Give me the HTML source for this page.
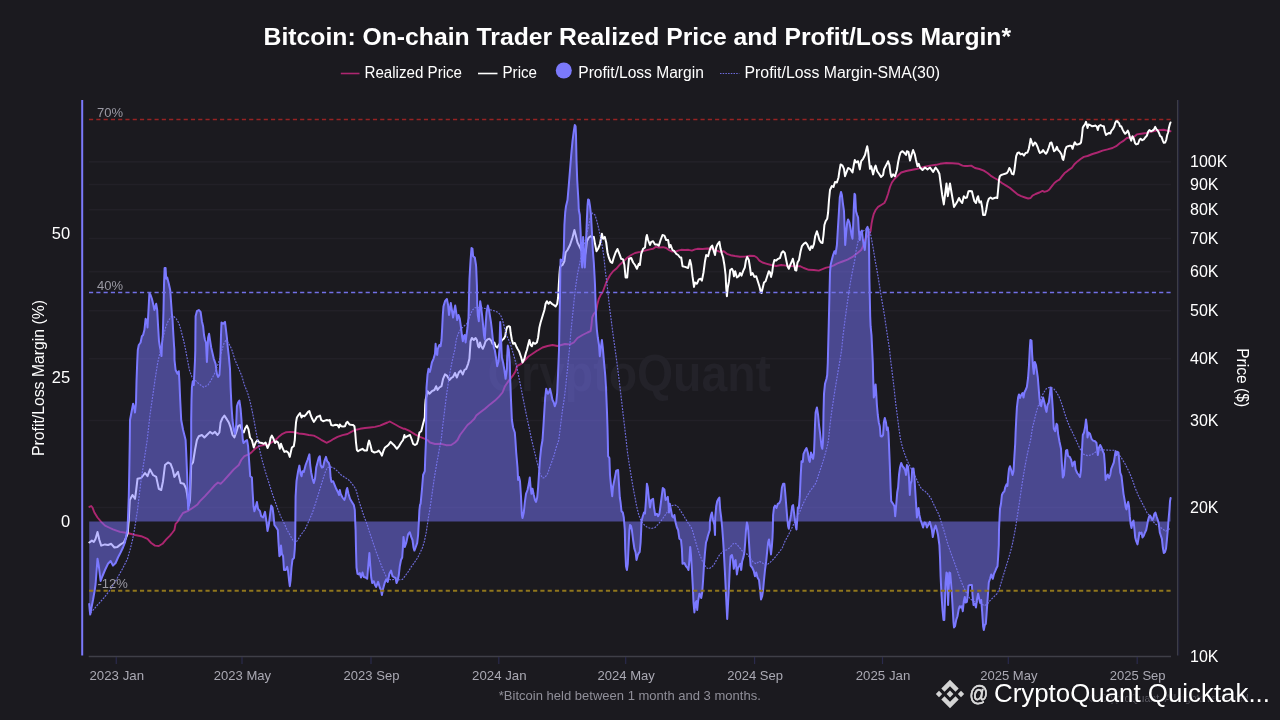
<!DOCTYPE html>
<html><head><meta charset="utf-8"><title>Bitcoin: On-chain Trader Realized Price and Profit/Loss Margin</title>
<style>html,body{margin:0;padding:0;background:#1b1a1f;width:1280px;height:720px;overflow:hidden;font-family:"Liberation Sans",sans-serif}</style>
</head><body>
<svg width="1280" height="720" viewBox="0 0 1280 720" style="display:block;will-change:transform">
<rect width="1280" height="720" fill="#1b1a1f"/>
<line x1="89" x2="1171" y1="161.9" y2="161.9" stroke="#222027" stroke-width="1.6"/>
<line x1="89" x2="1171" y1="184.5" y2="184.5" stroke="#222027" stroke-width="1.6"/>
<line x1="89" x2="1171" y1="209.8" y2="209.8" stroke="#222027" stroke-width="1.6"/>
<line x1="89" x2="1171" y1="238.5" y2="238.5" stroke="#222027" stroke-width="1.6"/>
<line x1="89" x2="1171" y1="271.6" y2="271.6" stroke="#222027" stroke-width="1.6"/>
<line x1="89" x2="1171" y1="310.8" y2="310.8" stroke="#222027" stroke-width="1.6"/>
<line x1="89" x2="1171" y1="358.7" y2="358.7" stroke="#222027" stroke-width="1.6"/>
<line x1="89" x2="1171" y1="420.5" y2="420.5" stroke="#222027" stroke-width="1.6"/>
<line x1="89" x2="1171" y1="507.5" y2="507.5" stroke="#222027" stroke-width="1.6"/>
<text x="487.5" y="390.8" font-family="Liberation Sans, sans-serif" font-size="52" font-weight="bold" fill="#232229" textLength="283.5" lengthAdjust="spacingAndGlyphs">CryptoQuant</text>
<path d="M89.4,506.9 L91.2,506.0 L92.5,507.5 L94.4,512.5 L97.5,517.5 L101.2,521.9 L105.0,525.6 L110.0,528.0 L113.0,529.4 L120.0,531.9 L127.5,533.0 L135.0,535.0 L141.2,536.2 L147.5,538.8 L151.2,543.0 L155.0,545.6 L158.8,546.0 L162.5,543.8 L166.2,539.4 L170.0,535.6 L172.5,532.5 L174.4,530.0 L175.6,523.8 L177.5,521.9 L180.0,517.5 L183.0,513.0 L187.5,511.2 L192.5,508.0 L197.5,504.4 L200.0,501.2 L205.0,496.2 L210.0,490.6 L215.0,485.0 L218.0,482.5 L220.6,483.8 L223.8,480.6 L228.8,475.0 L233.8,469.4 L238.8,465.0 L241.2,460.0 L244.4,456.2 L248.8,454.4 L251.9,451.9 L255.0,448.8 L258.8,446.2 L263.8,445.0 L268.1,444.4 L272.5,441.9 L276.2,439.4 L279.4,436.2 L282.5,433.8 L286.2,432.2 L290.0,431.9 L294.4,432.2 L298.8,433.5 L303.8,434.0 L308.8,435.0 L313.8,435.6 L317.5,437.5 L321.2,439.8 L325.0,441.9 L326.5,442.8 L330.0,441.2 L333.8,438.8 L337.5,436.9 L342.5,435.2 L347.5,434.0 L351.2,431.9 L355.0,430.0 L360.0,428.8 L365.0,428.0 L370.0,427.5 L375.0,426.9 L380.0,425.6 L383.8,424.0 L387.5,422.5 L389.8,421.5 L392.5,423.0 L396.2,425.0 L400.0,427.2 L403.8,428.8 L405.0,428.8 L410.0,431.2 L415.0,434.4 L420.0,436.9 L425.0,438.8 L427.5,440.0 L430.0,442.5 L435.0,444.0 L441.2,443.8 L446.2,445.2 L451.2,445.0 L455.0,442.5 L457.5,440.0 L460.0,435.0 L463.8,430.0 L467.5,425.0 L471.2,421.9 L474.4,418.8 L476.2,415.6 L480.0,412.5 L485.0,408.8 L490.0,404.4 L495.0,400.6 L498.8,396.9 L502.5,392.5 L505.0,386.2 L508.8,380.6 L512.5,376.2 L515.6,371.2 L516.9,366.2 L521.2,363.8 L525.0,360.0 L528.8,356.2 L532.5,353.8 L536.2,351.2 L538.4,350.0 L542.5,347.5 L547.5,346.0 L552.5,345.0 L557.5,346.0 L561.2,345.0 L565.0,344.0 L570.0,344.4 L573.8,342.5 L577.5,338.0 L582.5,335.0 L587.5,332.5 L590.6,331.2 L591.5,325.0 L592.2,317.5 L593.8,313.8 L596.2,311.2 L597.2,305.0 L598.8,298.8 L600.6,295.0 L602.5,292.5 L604.4,287.5 L606.2,282.5 L608.1,278.8 L610.0,275.3 L613.1,271.2 L616.2,268.8 L620.0,264.4 L623.8,261.2 L627.5,257.5 L631.2,255.0 L635.0,253.0 L640.0,251.9 L645.0,250.6 L650.0,249.4 L653.1,248.8 L655.6,246.9 L658.8,247.5 L663.1,247.2 L666.2,248.0 L668.8,250.0 L671.2,251.2 L675.0,251.9 L678.1,250.6 L681.2,249.8 L685.0,250.0 L688.5,249.8 L691.9,250.6 L695.0,249.4 L697.5,248.8 L702.5,249.0 L707.5,248.5 L712.5,248.8 L716.9,250.6 L720.0,251.9 L723.8,251.2 L726.9,253.8 L730.6,255.2 L735.0,256.0 L740.0,256.7 L745.0,256.6 L750.0,255.8 L754.4,256.0 L756.9,257.5 L759.4,260.6 L762.5,262.5 L766.9,263.8 L771.2,265.0 L776.2,266.0 L781.2,265.0 L786.2,265.6 L791.2,266.0 L796.2,266.2 L800.0,266.2 L803.8,268.0 L808.8,269.8 L813.8,270.0 L818.8,270.6 L822.5,269.2 L826.2,267.6 L830.0,266.9 L833.8,265.3 L837.5,263.3 L842.5,261.5 L847.5,259.6 L852.5,256.9 L857.5,253.0 L861.2,250.0 L863.1,246.2 L864.4,241.2 L866.2,237.5 L868.8,235.0 L870.6,231.2 L871.5,223.8 L872.5,218.8 L873.8,213.8 L875.6,210.0 L878.1,206.9 L881.2,205.0 L884.4,203.0 L886.2,199.4 L888.1,193.8 L890.0,187.0 L891.9,182.5 L894.4,179.0 L897.5,176.0 L901.2,172.5 L906.2,171.0 L911.2,170.0 L917.5,168.8 L923.8,166.9 L930.0,165.6 L936.2,164.8 L940.0,163.8 L946.2,163.0 L952.5,163.3 L958.8,163.8 L962.5,165.6 L965.0,166.0 L967.5,166.0 L971.2,165.6 L975.0,168.0 L979.4,169.0 L983.8,170.6 L987.5,173.0 L990.6,175.6 L994.4,178.0 L998.1,180.0 L1001.9,183.0 L1006.2,185.6 L1010.0,188.0 L1013.8,191.2 L1017.5,194.4 L1021.2,196.2 L1025.0,197.5 L1028.1,198.5 L1030.6,198.0 L1032.5,195.6 L1035.6,194.0 L1039.4,192.5 L1042.5,190.9 L1044.4,191.9 L1046.9,191.2 L1049.4,189.4 L1051.9,186.2 L1054.4,183.0 L1056.9,181.0 L1059.4,179.6 L1061.9,176.4 L1064.4,173.3 L1068.1,170.4 L1071.9,167.8 L1074.4,164.2 L1077.5,161.4 L1080.6,159.0 L1083.8,156.9 L1087.5,156.0 L1092.5,154.0 L1097.5,152.5 L1102.5,150.6 L1107.5,149.4 L1112.5,148.0 L1116.2,146.2 L1120.0,143.0 L1123.8,140.6 L1126.9,138.0 L1130.0,137.5 L1133.8,136.9 L1136.9,134.4 L1141.2,133.8 L1146.2,133.0 L1151.2,131.9 L1156.2,130.6 L1160.0,130.0 L1163.8,129.8 L1167.5,130.6 L1170.5,131.2" fill="none" stroke="#ad2670" stroke-width="1.9" stroke-linejoin="round" stroke-linecap="round"/>
<path d="M89.4,542.5 L91.9,540.6 L93.8,541.9 L95.6,538.8 L97.5,531.9 L99.4,540.0 L101.2,545.6 L105.0,544.4 L108.1,545.0 L111.2,543.8 L114.4,547.5 L117.5,546.9 L120.6,544.4 L123.8,542.5 L125.6,538.8 L127.5,533.8 L128.0,530.0 L128.4,524.0 L128.8,520.0 L129.8,500.0 L132.5,495.0 L135.0,498.8 L136.2,490.0 L137.5,478.8 L141.2,478.0 L145.0,473.0 L147.5,476.2 L150.0,469.4 L153.0,475.0 L156.2,476.9 L158.8,488.8 L161.2,490.0 L163.0,481.2 L165.0,465.0 L168.0,462.5 L170.6,463.8 L172.5,468.8 L174.4,476.9 L178.0,471.9 L180.6,483.0 L183.8,483.8 L186.2,488.8 L187.8,498.8 L188.8,505.0 L190.0,500.0 L191.2,465.0 L193.0,462.5 L195.0,450.0 L196.9,440.0 L198.8,436.2 L201.9,435.0 L204.4,437.5 L206.9,435.0 L210.0,431.9 L212.5,433.8 L215.0,431.9 L217.5,435.0 L219.4,432.5 L220.6,422.5 L222.5,418.0 L224.4,415.6 L226.9,419.4 L228.8,422.5 L230.6,427.5 L232.5,435.0 L234.4,437.5 L236.2,432.5 L238.1,426.2 L240.0,425.0 L241.9,430.0 L243.8,432.5 L245.0,428.8 L246.9,425.6 L248.5,429.4 L250.0,437.5 L251.9,440.0 L253.8,447.5 L255.6,442.5 L257.5,440.0 L259.4,442.5 L261.9,443.0 L263.8,443.8 L265.6,442.5 L267.5,448.0 L269.4,443.8 L270.6,438.0 L271.9,435.6 L273.5,438.8 L275.0,443.0 L276.5,441.2 L278.1,442.5 L279.8,448.8 L281.0,443.8 L282.5,448.0 L284.4,451.9 L286.2,451.2 L288.1,452.5 L289.8,456.9 L291.0,451.2 L291.9,447.5 L293.8,446.2 L294.8,440.0 L295.4,430.0 L296.0,422.5 L296.9,417.5 L298.5,415.0 L300.0,413.0 L301.5,417.5 L302.8,415.6 L304.4,416.2 L306.2,414.4 L308.1,411.9 L309.4,411.0 L310.6,415.0 L312.2,418.8 L313.8,421.9 L315.2,420.0 L316.9,416.9 L318.8,416.2 L320.0,415.6 L321.2,420.0 L323.1,421.2 L325.0,420.6 L326.9,420.0 L328.5,420.6 L329.8,420.0 L331.2,425.0 L333.1,425.6 L335.0,424.8 L337.5,425.0 L339.0,427.5 L339.8,424.4 L341.2,426.2 L343.1,426.5 L345.0,426.2 L346.5,422.5 L347.5,421.9 L349.4,424.4 L351.2,424.8 L353.1,425.0 L354.4,426.2 L355.2,432.5 L356.0,442.5 L356.9,450.0 L358.1,451.2 L360.0,450.0 L362.5,448.8 L364.4,450.6 L366.9,450.6 L368.1,443.8 L369.1,440.6 L370.4,445.0 L371.9,451.2 L374.4,452.5 L376.9,451.9 L378.8,450.6 L380.6,453.0 L381.9,455.6 L383.5,450.6 L385.0,447.5 L386.9,446.2 L388.8,444.4 L390.6,441.9 L392.5,443.8 L394.4,445.6 L396.9,448.8 L399.4,445.6 L401.2,442.5 L403.1,440.0 L404.4,435.0 L405.0,437.5 L407.5,436.2 L410.0,435.0 L411.9,440.0 L413.1,443.8 L415.0,445.0 L416.9,443.8 L418.1,440.0 L419.4,432.5 L421.2,431.2 L423.1,423.8 L424.8,417.5 L425.2,405.0 L425.6,400.0 L427.5,391.2 L429.4,393.8 L431.9,391.2 L434.4,390.0 L436.2,386.2 L437.5,390.0 L439.4,387.5 L441.5,386.2 L443.1,378.8 L445.0,374.4 L446.9,375.6 L449.4,380.0 L451.2,378.0 L453.1,376.9 L455.0,373.0 L456.9,377.5 L458.8,372.5 L460.6,370.6 L462.8,374.4 L464.4,370.0 L466.2,368.8 L468.1,363.8 L469.4,358.8 L470.0,350.0 L470.6,341.2 L471.9,338.0 L473.8,340.0 L475.6,338.0 L476.9,340.0 L478.1,346.2 L479.0,347.5 L480.0,342.5 L481.2,346.2 L482.8,348.8 L484.0,346.2 L485.6,341.2 L487.5,339.4 L489.4,338.8 L491.2,340.6 L492.5,343.8 L494.4,342.5 L495.6,346.2 L497.2,347.5 L498.8,345.0 L500.5,342.5 L502.2,340.0 L503.8,338.8 L505.2,336.2 L506.2,330.0 L507.2,326.9 L508.8,326.2 L510.0,326.9 L510.6,332.5 L511.9,340.0 L513.1,343.8 L514.8,343.0 L516.2,346.2 L517.5,348.8 L519.0,351.2 L521.2,357.5 L522.5,362.5 L524.4,358.8 L526.0,352.5 L526.9,350.0 L528.1,345.0 L529.4,340.0 L530.6,345.0 L531.9,346.2 L533.1,342.5 L535.0,343.8 L536.9,342.5 L538.1,337.5 L539.4,327.5 L540.6,322.5 L542.5,316.2 L544.4,310.0 L545.6,303.8 L546.9,301.2 L548.5,303.8 L550.0,301.9 L551.9,303.8 L553.8,305.0 L555.6,306.5 L557.2,303.8 L558.1,297.5 L558.8,285.0 L559.4,275.0 L560.0,267.5 L560.6,266.2 L562.5,265.0 L564.4,261.2 L565.6,252.5 L567.5,250.0 L570.0,245.0 L572.5,237.5 L574.4,230.0 L576.0,236.2 L577.5,242.5 L579.4,246.2 L581.2,250.0 L583.1,252.5 L585.0,255.0 L586.0,250.0 L586.9,241.2 L588.8,237.5 L590.6,236.2 L592.5,237.5 L593.8,236.9 L595.0,243.8 L596.5,251.2 L598.1,248.8 L600.0,243.8 L601.9,233.8 L603.1,238.8 L604.8,236.9 L606.2,242.5 L607.5,252.5 L608.8,257.5 L610.6,261.9 L612.2,263.0 L613.8,257.5 L615.6,252.5 L617.5,249.0 L619.4,253.8 L621.2,258.8 L623.1,259.4 L624.4,265.0 L625.6,277.5 L627.2,277.5 L628.1,267.5 L629.0,258.8 L631.2,258.0 L633.1,262.5 L635.0,265.0 L636.9,268.8 L638.8,263.8 L639.9,265.0 L641.2,253.8 L643.1,248.8 L645.0,247.5 L646.2,237.5 L646.9,235.0 L648.1,240.0 L650.0,245.0 L651.2,241.9 L653.1,241.2 L655.0,244.4 L656.9,244.4 L658.8,245.6 L660.6,240.0 L662.5,235.0 L664.4,235.6 L666.2,240.0 L668.1,240.0 L669.4,247.5 L670.6,245.0 L672.5,250.0 L674.4,251.2 L676.2,253.8 L678.1,255.0 L680.0,257.5 L681.2,257.5 L682.5,266.2 L685.0,266.9 L688.1,268.0 L690.0,260.0 L691.2,265.0 L692.5,276.2 L694.0,286.9 L695.0,282.5 L696.9,283.8 L698.8,279.4 L700.6,278.8 L701.9,280.6 L703.5,272.5 L705.0,261.2 L706.2,255.0 L708.1,256.2 L709.4,251.2 L710.6,247.5 L712.2,245.6 L713.8,251.2 L715.0,255.0 L716.2,247.5 L717.5,244.4 L719.4,241.9 L720.6,248.8 L721.9,253.8 L723.1,257.5 L724.4,265.0 L725.6,275.0 L726.2,287.5 L726.9,296.2 L727.8,287.5 L729.0,281.2 L730.2,270.0 L731.9,268.8 L733.1,271.2 L734.0,276.2 L735.2,271.2 L736.9,277.5 L738.8,276.2 L740.0,273.0 L741.5,275.6 L743.1,271.2 L744.8,267.5 L746.0,260.0 L747.2,256.9 L748.8,260.0 L750.0,267.5 L751.0,275.0 L752.5,273.0 L754.4,276.9 L756.2,276.2 L757.8,281.2 L759.4,286.2 L760.6,291.2 L761.5,293.0 L762.5,288.8 L764.0,282.5 L765.6,281.2 L767.2,276.2 L768.8,271.2 L770.0,272.5 L771.0,276.9 L772.2,272.5 L773.1,265.0 L774.4,260.0 L776.2,260.6 L778.1,258.8 L780.0,258.0 L781.5,253.0 L783.1,251.2 L784.8,253.0 L786.2,260.0 L787.5,266.2 L788.8,268.8 L790.2,265.0 L791.9,261.2 L792.8,258.8 L794.0,263.8 L795.2,270.0 L796.3,270.5 L797.5,262.5 L799.0,260.0 L800.6,251.2 L801.9,246.2 L803.8,243.8 L805.6,242.5 L807.2,244.4 L808.8,248.0 L810.0,250.0 L811.2,246.2 L812.5,248.0 L814.0,243.8 L815.2,236.2 L816.9,231.2 L818.1,235.0 L819.4,240.0 L821.0,242.5 L822.5,243.0 L823.5,235.0 L824.4,225.0 L825.6,221.2 L827.2,218.8 L828.1,212.5 L829.0,200.0 L830.0,190.0 L831.9,186.0 L833.5,186.9 L835.0,182.0 L836.9,182.5 L838.5,177.5 L839.4,171.2 L840.6,164.4 L842.5,165.6 L844.0,168.8 L845.0,176.2 L846.9,171.2 L848.1,168.0 L850.0,168.8 L852.5,172.5 L853.8,165.0 L854.8,160.0 L856.2,162.5 L858.1,161.2 L859.8,169.4 L861.2,161.2 L863.1,158.8 L865.0,155.0 L866.2,150.0 L867.2,146.2 L868.1,151.2 L869.0,160.0 L870.0,168.8 L871.2,166.2 L873.1,174.4 L874.8,167.5 L875.6,165.6 L877.2,171.2 L879.0,173.8 L881.0,176.9 L883.1,175.0 L884.0,169.4 L885.6,166.2 L886.9,163.8 L888.1,161.2 L889.4,165.0 L890.6,173.8 L891.5,176.9 L893.1,174.4 L895.0,176.2 L896.9,170.0 L898.1,162.5 L899.4,156.2 L900.6,152.5 L902.5,151.2 L904.4,153.0 L906.0,155.0 L906.9,151.2 L908.5,151.9 L910.0,160.6 L911.5,155.0 L913.1,150.0 L914.8,154.4 L916.0,160.0 L917.5,166.2 L918.8,163.8 L920.0,167.5 L922.5,170.0 L925.0,167.5 L927.5,169.4 L930.0,167.5 L933.1,171.9 L935.6,167.5 L937.5,170.0 L939.4,173.8 L940.2,180.0 L941.0,186.2 L942.2,195.0 L943.8,204.4 L945.0,195.0 L946.5,183.5 L947.8,196.2 L948.8,190.0 L950.0,183.5 L951.5,192.5 L952.8,200.0 L954.0,206.9 L956.0,203.8 L957.5,201.2 L959.0,198.0 L960.6,201.2 L962.2,203.0 L963.8,196.2 L965.2,198.0 L966.9,197.5 L968.5,191.2 L970.0,191.0 L971.9,191.2 L973.1,196.2 L974.4,201.2 L976.0,203.0 L977.2,198.0 L978.1,196.2 L979.4,202.5 L981.0,201.2 L982.2,207.5 L983.1,215.0 L985.0,215.0 L986.2,210.0 L987.5,202.5 L988.8,198.8 L990.6,197.5 L992.5,198.8 L994.4,198.0 L996.2,197.5 L997.3,198.0 L998.1,190.0 L999.0,180.0 L999.8,176.2 L1001.2,175.0 L1003.1,174.4 L1005.0,173.8 L1006.9,173.0 L1008.1,171.2 L1009.4,168.0 L1010.6,170.0 L1011.9,173.8 L1013.5,174.4 L1014.4,170.0 L1015.2,163.8 L1016.2,156.2 L1017.5,153.0 L1019.0,152.5 L1020.6,154.4 L1022.5,153.8 L1024.0,155.6 L1025.6,153.0 L1027.5,152.5 L1028.8,148.8 L1029.8,143.8 L1030.6,138.8 L1031.9,142.5 L1033.1,145.6 L1034.8,142.5 L1036.2,143.8 L1037.8,147.5 L1039.0,151.2 L1040.0,153.0 L1041.9,151.9 L1043.1,150.0 L1044.8,152.5 L1046.0,153.8 L1047.2,151.9 L1048.8,147.5 L1050.2,143.0 L1051.5,142.5 L1052.8,146.9 L1054.0,151.2 L1055.6,150.0 L1056.9,146.9 L1058.1,150.0 L1060.0,151.9 L1061.5,154.4 L1062.5,158.8 L1063.3,160.0 L1064.4,155.0 L1065.2,150.0 L1066.5,146.9 L1068.1,146.2 L1070.0,145.6 L1071.5,146.0 L1072.6,148.8 L1073.6,145.3 L1074.8,142.2 L1076.2,144.4 L1078.0,144.4 L1079.8,143.8 L1081.0,142.5 L1081.9,136.5 L1082.8,127.5 L1084.0,125.6 L1085.0,124.4 L1086.0,121.9 L1086.9,125.0 L1087.5,128.0 L1088.5,124.4 L1090.0,125.0 L1091.9,126.2 L1093.8,125.9 L1095.6,125.6 L1096.9,126.9 L1097.8,130.0 L1098.8,126.2 L1100.6,125.0 L1102.2,126.0 L1103.8,126.2 L1104.8,131.2 L1106.0,135.0 L1107.5,133.8 L1109.0,133.0 L1110.3,133.5 L1111.5,130.6 L1113.1,128.8 L1114.4,126.2 L1115.2,123.0 L1116.2,121.2 L1117.2,120.6 L1118.1,122.5 L1119.0,123.0 L1120.0,126.2 L1121.2,126.2 L1122.5,129.4 L1123.8,131.9 L1125.2,133.8 L1126.5,132.5 L1127.8,130.6 L1128.8,133.0 L1130.0,137.5 L1131.2,140.6 L1132.5,136.2 L1133.8,138.8 L1135.0,143.0 L1136.2,144.4 L1138.1,143.8 L1139.4,140.0 L1140.6,138.8 L1142.2,140.2 L1143.8,139.4 L1145.2,137.5 L1146.9,135.6 L1148.1,131.9 L1149.4,130.0 L1151.0,131.2 L1152.5,130.6 L1154.0,129.4 L1155.2,126.9 L1156.5,129.4 L1157.8,130.6 L1159.0,133.0 L1160.2,136.2 L1161.5,136.9 L1162.8,140.6 L1163.8,142.8 L1165.2,142.5 L1166.2,140.0 L1167.2,135.0 L1168.1,132.5 L1169.0,127.5 L1169.8,124.4 L1170.5,122.5" fill="none" stroke="#ffffff" stroke-width="2" stroke-linejoin="round" stroke-linecap="round"/>
<path d="M89.2,604.0 L89.7,610.0 L90.2,614.6 L91.5,607.5 L93.0,600.0 L94.5,591.5 L95.6,584.0 L96.5,572.0 L97.5,558.8 L98.8,566.0 L100.6,581.0 L102.5,576.0 L105.0,570.0 L108.0,563.8 L110.6,561.0 L113.0,565.6 L115.6,563.0 L118.0,557.5 L120.6,552.5 L123.0,547.5 L125.0,542.5 L126.2,536.0 L127.5,530.0 L128.1,515.0 L128.8,496.0 L129.4,465.0 L129.8,440.0 L130.0,420.0 L131.9,410.0 L133.1,403.8 L134.4,408.8 L135.0,412.5 L136.0,402.5 L136.5,381.2 L137.2,362.5 L137.8,350.0 L138.8,345.0 L140.6,342.5 L141.9,336.2 L143.1,335.0 L144.4,330.0 L145.6,318.8 L146.9,321.2 L147.5,327.5 L148.5,310.0 L149.4,293.0 L150.6,295.0 L151.9,298.8 L153.1,303.8 L154.4,310.0 L156.2,303.8 L157.2,310.0 L158.1,326.2 L159.0,341.2 L160.0,347.5 L160.6,350.0 L161.5,356.0 L161.9,345.0 L162.8,335.0 L163.5,310.0 L164.0,285.0 L164.6,268.0 L165.6,268.0 L166.2,278.8 L167.2,277.5 L168.8,283.8 L170.2,290.0 L171.0,301.2 L171.9,313.8 L172.5,318.8 L173.1,330.0 L174.0,345.0 L174.4,350.0 L174.5,360.0 L175.6,370.0 L177.5,373.8 L178.8,371.2 L179.4,381.2 L180.2,400.0 L181.2,420.0 L183.1,430.0 L185.0,437.5 L185.6,440.0 L186.2,452.5 L187.2,477.5 L187.8,500.0 L188.2,509.4 L189.4,502.5 L190.2,477.5 L191.0,452.5 L191.2,440.0 L191.2,420.0 L191.5,400.0 L191.9,387.5 L192.8,381.2 L193.8,385.0 L194.4,372.5 L195.0,360.0 L195.3,350.0 L195.4,335.0 L195.6,316.2 L196.9,311.2 L198.8,310.0 L200.6,311.9 L201.9,321.2 L203.1,326.2 L204.0,335.0 L205.0,340.0 L206.0,342.5 L206.9,361.9 L208.1,337.5 L209.1,333.8 L210.0,340.0 L211.2,347.5 L213.8,358.8 L215.6,363.8 L216.9,373.8 L218.1,376.9 L219.4,375.0 L220.2,362.5 L220.6,350.0 L221.0,335.0 L221.5,322.5 L223.1,323.8 L225.0,321.9 L226.0,330.0 L226.9,337.5 L227.8,347.5 L228.8,356.2 L230.0,368.8 L230.6,387.5 L231.5,406.2 L232.5,420.0 L233.8,430.0 L235.0,433.8 L236.2,425.0 L236.9,406.2 L238.1,402.5 L239.4,400.6 L240.6,408.8 L241.5,420.0 L242.2,431.2 L242.8,440.0 L243.5,443.0 L245.5,441.0 L247.0,440.0 L248.1,446.2 L249.4,465.0 L250.2,476.2 L251.9,477.5 L252.5,490.0 L253.5,506.2 L254.4,511.2 L255.6,507.5 L256.9,501.9 L258.1,508.8 L260.0,511.2 L261.2,516.2 L263.1,517.5 L265.0,511.9 L266.2,520.0 L267.5,531.0 L268.8,525.0 L270.0,515.0 L271.2,505.6 L272.5,507.5 L273.5,515.0 L274.4,525.0 L276.2,527.5 L277.8,530.0 L278.5,542.5 L279.4,556.2 L280.2,555.0 L281.0,545.6 L281.9,553.8 L283.1,556.2 L284.0,570.0 L285.6,570.0 L287.2,566.9 L288.1,571.2 L289.0,580.0 L289.8,586.2 L290.6,580.0 L291.5,567.5 L292.5,559.4 L294.0,558.0 L294.8,548.8 L295.2,540.0 L295.3,530.0 L295.4,515.0 L295.6,496.2 L296.5,481.2 L298.1,471.2 L299.4,465.6 L300.6,473.8 L301.5,476.2 L302.5,471.2 L303.8,472.0 L305.6,465.0 L307.5,460.0 L309.4,454.4 L310.2,465.0 L311.2,472.5 L312.5,478.8 L313.8,483.0 L315.0,478.8 L316.2,467.5 L317.5,462.5 L318.8,457.5 L319.8,456.2 L320.6,465.0 L321.9,467.5 L323.1,467.0 L324.4,461.2 L326.0,456.9 L327.2,461.2 L328.8,463.0 L329.8,466.2 L330.6,477.5 L331.5,481.9 L333.1,481.2 L334.4,484.4 L336.2,488.8 L338.1,492.5 L339.0,495.0 L339.8,490.0 L340.6,493.8 L342.5,497.5 L344.4,500.0 L345.6,496.2 L346.5,490.0 L347.2,488.0 L348.5,493.8 L350.0,498.8 L351.9,501.9 L353.8,505.0 L354.8,510.0 L355.2,521.2 L355.6,530.0 L356.0,548.8 L356.5,567.5 L357.5,573.8 L358.8,574.4 L359.8,573.0 L361.0,577.5 L362.5,572.5 L363.8,577.0 L365.6,577.5 L367.2,578.8 L368.1,567.5 L369.4,553.0 L370.2,565.0 L371.2,577.5 L372.2,583.0 L373.8,581.2 L375.0,585.0 L376.2,586.9 L378.1,581.9 L379.8,587.5 L381.0,590.0 L381.9,595.0 L383.1,588.8 L384.8,582.5 L386.2,579.4 L387.8,581.9 L389.4,573.8 L391.0,570.6 L392.5,576.2 L394.4,577.5 L395.6,578.0 L396.5,583.0 L397.8,580.0 L398.8,575.0 L399.8,566.2 L401.0,560.0 L402.2,557.5 L402.8,549.0 L403.5,536.9 L404.8,546.9 L406.2,543.0 L408.1,534.4 L409.8,532.2 L411.2,536.9 L412.5,540.0 L413.5,547.5 L414.4,550.6 L415.6,547.5 L417.2,543.0 L418.1,535.0 L418.8,522.5 L419.4,510.0 L420.0,505.0 L420.6,503.8 L421.9,490.0 L423.1,475.0 L424.8,471.2 L425.2,458.8 L426.0,440.0 L426.2,412.5 L426.5,387.5 L427.5,375.0 L428.5,368.8 L429.8,371.9 L430.6,369.0 L431.9,362.5 L433.5,358.8 L435.0,353.8 L435.6,343.8 L436.2,351.2 L437.2,355.0 L437.8,348.8 L439.4,345.0 L440.6,346.2 L441.5,340.0 L442.2,327.5 L442.8,315.0 L443.5,306.2 L445.0,301.2 L446.9,299.0 L448.1,305.0 L449.0,315.0 L449.8,310.0 L450.8,303.0 L451.9,310.0 L453.1,317.5 L454.4,310.0 L455.2,305.6 L456.2,312.5 L457.2,320.0 L458.5,315.0 L459.8,318.8 L461.0,327.5 L461.9,335.0 L462.8,341.2 L463.8,336.2 L464.8,335.0 L465.6,342.5 L466.5,335.0 L467.5,327.5 L468.5,317.5 L469.0,297.5 L469.5,278.8 L470.2,266.2 L470.6,260.0 L471.5,248.0 L472.5,248.8 L473.1,256.2 L474.8,257.5 L476.0,265.0 L476.2,267.5 L476.9,285.0 L477.2,303.8 L477.8,315.0 L478.8,321.2 L479.5,310.0 L480.2,301.2 L481.2,307.5 L482.2,316.2 L483.1,325.0 L484.0,335.0 L484.8,339.4 L485.6,325.0 L486.5,312.5 L487.8,305.6 L489.0,310.0 L490.0,316.2 L491.0,322.5 L491.9,330.0 L492.8,338.8 L493.8,347.5 L494.8,350.0 L496.0,357.5 L497.2,366.2 L498.5,361.2 L499.4,350.0 L499.8,335.0 L500.2,321.9 L501.0,335.0 L501.5,350.0 L501.9,357.5 L503.1,362.5 L504.4,370.0 L505.6,378.8 L506.9,368.8 L507.2,356.2 L507.8,345.6 L508.8,350.0 L509.8,362.5 L510.2,378.8 L511.0,400.0 L511.9,420.0 L513.1,427.5 L514.8,432.5 L515.4,440.0 L516.2,452.5 L517.5,467.5 L518.1,480.0 L519.0,476.9 L520.0,481.2 L521.0,496.2 L521.9,515.0 L522.5,518.0 L523.8,512.5 L524.8,502.5 L526.0,493.8 L527.5,490.0 L528.8,483.8 L529.8,477.5 L530.6,487.5 L531.5,493.8 L532.5,488.8 L533.8,495.0 L535.0,500.0 L536.0,501.9 L537.2,497.5 L538.1,487.5 L539.0,473.8 L540.0,458.8 L541.2,447.5 L542.5,440.0 L543.5,425.0 L544.4,410.0 L545.2,397.5 L546.2,388.8 L547.8,393.8 L548.9,392.5 L550.0,388.8 L551.2,393.8 L552.5,400.0 L553.8,402.5 L554.8,406.2 L556.2,402.5 L557.2,392.5 L558.0,375.0 L558.5,362.5 L559.0,350.0 L559.5,322.5 L560.0,297.5 L560.3,272.5 L560.6,259.4 L561.9,261.2 L563.0,259.0 L563.8,250.0 L564.4,225.0 L565.2,212.5 L566.0,206.2 L567.5,200.0 L568.8,185.0 L570.0,170.0 L571.2,155.0 L572.5,141.2 L573.8,131.2 L574.8,125.0 L575.6,126.2 L576.0,135.0 L576.5,160.0 L577.2,180.0 L578.1,195.0 L578.4,200.0 L578.8,210.0 L579.8,215.0 L580.6,231.2 L581.2,250.0 L581.9,265.0 L582.2,267.5 L582.8,250.0 L583.1,236.9 L583.8,250.0 L584.8,267.5 L585.5,255.0 L586.2,237.5 L586.9,218.8 L587.5,206.2 L588.1,199.4 L589.0,200.0 L590.0,206.2 L591.0,215.0 L591.9,231.2 L592.8,250.0 L593.8,262.5 L594.5,275.0 L595.0,285.0 L595.6,303.8 L596.2,320.0 L596.9,330.0 L597.8,337.5 L599.0,345.0 L599.8,356.2 L600.8,348.0 L601.9,340.0 L602.8,347.5 L603.5,356.2 L604.4,366.2 L605.2,375.0 L606.0,387.5 L606.5,400.0 L607.0,412.5 L607.5,427.5 L607.8,440.0 L608.1,456.2 L609.4,458.0 L610.0,475.0 L611.2,487.5 L612.2,496.2 L613.1,486.2 L614.4,480.0 L616.2,470.6 L618.1,470.0 L618.8,481.2 L619.8,497.5 L620.6,502.5 L621.5,511.2 L622.8,512.5 L623.8,517.5 L624.8,530.0 L625.2,548.8 L626.0,566.2 L626.9,570.0 L627.8,563.8 L628.5,548.8 L629.4,530.0 L630.0,525.0 L631.0,526.0 L631.9,530.0 L633.1,540.0 L634.4,548.8 L635.6,552.5 L636.5,560.0 L637.8,555.0 L638.8,553.0 L639.7,552.0 L640.6,542.5 L641.2,530.0 L641.5,521.2 L642.8,516.2 L644.0,512.5 L645.0,513.5 L646.0,500.0 L646.9,483.8 L647.8,487.5 L648.8,497.5 L650.0,507.5 L651.2,500.0 L653.1,498.8 L654.0,507.5 L655.2,515.0 L656.9,513.8 L658.1,516.2 L659.4,513.8 L660.6,505.0 L661.9,495.0 L662.8,488.0 L664.4,489.4 L665.6,500.0 L666.9,498.8 L667.8,496.9 L668.6,505.0 L669.0,512.5 L669.8,503.8 L671.0,510.0 L672.2,516.2 L673.5,517.5 L674.4,515.0 L675.6,522.5 L676.9,527.5 L678.1,530.0 L679.4,538.8 L681.0,540.0 L681.9,548.8 L682.5,563.8 L684.4,563.0 L686.0,566.2 L687.2,567.5 L688.5,570.0 L689.4,560.0 L690.2,546.9 L691.0,555.0 L691.9,570.0 L692.8,586.2 L693.5,602.5 L694.4,612.5 L695.6,602.5 L696.5,601.0 L697.2,610.0 L698.1,601.2 L699.4,593.8 L700.3,594.5 L701.2,598.0 L702.2,592.5 L703.1,580.0 L704.0,565.0 L705.0,552.5 L706.0,542.5 L706.9,540.0 L707.8,536.2 L708.8,533.0 L709.8,530.0 L709.9,521.2 L711.0,515.0 L711.9,512.5 L713.1,520.0 L714.4,525.0 L714.7,531.0 L715.0,535.0 L715.1,530.0 L715.2,517.5 L716.2,506.2 L717.2,501.2 L718.5,498.8 L719.4,497.5 L720.2,510.0 L721.2,517.5 L722.2,528.0 L723.1,540.0 L723.9,553.0 L724.8,570.0 L725.6,586.2 L726.5,605.0 L727.2,619.0 L728.1,602.5 L729.0,586.2 L729.8,567.5 L730.6,556.2 L731.9,555.0 L732.8,558.8 L733.8,568.8 L734.8,561.2 L735.6,560.0 L736.9,574.4 L738.1,567.5 L739.3,566.0 L740.2,563.8 L741.2,570.0 L742.2,561.2 L743.5,556.9 L744.4,552.5 L745.2,542.5 L746.0,530.0 L746.9,522.5 L747.8,526.0 L748.2,530.0 L749.0,542.5 L749.8,555.0 L750.6,565.6 L752.2,567.5 L753.8,571.2 L755.0,576.2 L756.2,572.5 L757.5,577.5 L759.0,580.0 L760.0,588.8 L761.0,599.4 L762.2,596.2 L763.1,590.0 L764.0,580.0 L765.0,570.0 L766.2,561.2 L767.2,551.2 L768.1,542.5 L769.0,539.4 L770.0,546.2 L771.0,554.4 L771.9,546.2 L772.5,537.5 L772.8,530.0 L773.1,515.0 L774.0,507.5 L775.0,505.6 L776.5,508.0 L777.8,503.8 L779.4,503.0 L780.6,500.0 L781.9,487.5 L783.1,483.8 L784.4,483.8 L785.2,492.5 L786.2,505.0 L787.2,517.5 L788.1,526.2 L788.8,528.8 L789.8,521.2 L791.0,515.0 L792.2,506.2 L793.1,505.0 L794.0,512.5 L795.0,520.0 L796.0,527.5 L796.5,529.5 L797.2,520.0 L797.8,507.5 L798.8,508.0 L799.8,496.2 L800.6,477.5 L801.5,461.2 L802.8,461.9 L803.5,453.8 L805.0,450.6 L806.5,448.0 L807.8,452.5 L809.0,460.0 L809.8,461.9 L811.0,452.5 L812.2,456.2 L813.1,458.8 L814.0,452.5 L814.5,440.0 L815.0,425.0 L815.6,412.5 L816.9,407.5 L818.1,415.0 L819.0,425.0 L820.0,432.5 L820.8,440.0 L821.5,446.2 L822.3,448.8 L822.9,442.5 L823.2,436.0 L823.5,412.5 L824.0,393.8 L825.0,383.8 L826.5,378.8 L827.2,375.0 L827.8,362.5 L828.1,350.0 L828.8,322.5 L829.4,297.5 L830.0,272.5 L830.6,265.0 L831.5,261.2 L832.3,258.0 L833.1,255.0 L834.4,251.2 L835.6,253.8 L836.9,245.0 L837.8,230.0 L838.8,213.8 L839.8,197.5 L841.0,191.9 L841.9,195.0 L842.8,202.5 L844.0,211.2 L844.8,232.5 L845.2,245.0 L846.2,232.5 L847.2,222.5 L848.1,219.4 L849.4,222.5 L850.6,228.8 L851.5,235.0 L852.5,238.8 L853.1,226.2 L853.8,207.5 L854.5,193.8 L855.2,195.0 L856.0,211.2 L857.2,215.0 L858.1,217.5 L858.8,230.0 L859.8,240.0 L860.6,232.5 L861.9,230.6 L862.8,238.8 L863.8,245.0 L864.8,250.0 L865.6,240.0 L866.5,228.8 L867.5,226.9 L868.5,230.0 L869.0,245.0 L869.2,260.0 L869.4,278.8 L869.8,297.5 L870.2,316.2 L870.6,326.2 L871.5,335.0 L872.2,350.0 L872.8,362.5 L873.1,375.0 L873.5,387.5 L873.8,397.5 L874.8,393.8 L875.6,384.4 L876.2,392.5 L876.9,405.0 L877.8,415.0 L878.8,422.5 L879.8,426.2 L880.6,436.2 L881.8,436.5 L883.1,435.0 L883.8,422.5 L884.8,418.0 L886.0,422.5 L886.9,430.0 L887.8,427.5 L888.4,432.5 L888.8,440.0 L889.8,465.0 L890.6,487.5 L891.2,501.2 L893.1,503.8 L894.4,506.2 L895.2,516.2 L896.2,505.0 L897.2,492.5 L898.1,487.5 L899.0,475.0 L900.0,467.5 L901.2,463.0 L902.5,466.2 L904.0,468.0 L905.2,470.6 L906.0,475.0 L906.9,465.0 L908.1,466.9 L909.0,477.5 L909.8,495.0 L910.6,483.8 L911.5,481.2 L912.2,468.8 L913.5,468.5 L914.4,476.2 L915.2,490.0 L916.0,502.5 L916.9,517.5 L917.8,513.8 L918.5,508.0 L919.4,515.0 L920.6,520.0 L921.9,523.8 L923.1,527.5 L924.4,522.5 L925.6,523.0 L926.9,527.5 L928.2,525.0 L929.8,521.9 L931.0,526.2 L931.9,530.0 L932.8,537.0 L934.4,528.8 L935.6,525.6 L936.9,530.0 L938.0,535.0 L939.4,545.0 L940.0,557.5 L940.6,576.2 L941.5,595.0 L942.5,610.0 L943.5,620.0 L944.3,620.0 L945.0,601.2 L945.6,582.5 L946.5,572.5 L947.2,573.5 L947.8,595.0 L948.1,605.0 L948.8,588.8 L949.4,572.5 L950.2,573.0 L951.0,582.5 L951.9,595.0 L952.8,610.0 L953.5,622.5 L954.0,627.5 L955.0,626.2 L956.2,620.0 L957.5,616.2 L958.8,608.8 L959.8,606.2 L960.9,607.5 L961.9,606.2 L962.8,611.2 L963.8,601.2 L964.8,596.9 L965.6,602.5 L966.9,601.9 L967.8,595.0 L968.5,585.6 L970.0,585.0 L971.9,585.0 L972.5,595.0 L973.5,605.0 L974.8,603.8 L976.0,607.5 L976.9,600.0 L978.1,593.8 L979.4,600.0 L980.2,602.5 L981.2,600.0 L982.2,612.5 L983.1,626.2 L983.8,630.0 L984.8,625.0 L985.8,623.8 L986.5,615.0 L987.2,605.0 L988.1,592.5 L988.8,582.5 L990.0,578.8 L991.2,574.4 L992.8,578.8 L994.0,573.8 L995.2,571.2 L996.5,568.0 L997.5,566.2 L998.1,557.5 L998.8,545.0 L999.0,530.0 L999.4,521.2 L1000.0,508.8 L1001.0,503.8 L1001.9,495.0 L1003.1,492.5 L1004.3,491.5 L1005.2,487.5 L1006.5,484.4 L1007.4,486.0 L1008.1,477.5 L1009.0,468.8 L1010.0,466.2 L1011.2,470.0 L1012.5,475.0 L1013.5,471.2 L1014.4,456.2 L1015.2,443.8 L1015.6,432.5 L1016.2,420.0 L1016.9,407.5 L1018.1,397.5 L1019.0,394.4 L1020.0,398.0 L1021.2,395.0 L1022.5,393.0 L1023.5,397.5 L1024.4,392.5 L1025.6,390.0 L1026.9,386.9 L1028.1,377.5 L1029.0,365.0 L1029.8,348.8 L1030.4,340.0 L1031.5,340.6 L1032.2,355.0 L1033.1,367.5 L1033.8,373.8 L1034.8,361.9 L1036.0,365.0 L1036.9,371.2 L1037.8,377.5 L1038.5,386.2 L1039.4,397.5 L1040.2,405.0 L1041.2,406.2 L1042.2,400.0 L1043.1,397.5 L1044.4,402.5 L1045.6,408.8 L1046.5,411.9 L1047.5,405.0 L1048.8,402.5 L1049.8,395.0 L1050.6,387.5 L1051.4,388.5 L1052.2,400.0 L1052.9,410.0 L1053.3,420.0 L1053.8,428.8 L1055.2,431.2 L1056.5,423.8 L1057.3,425.0 L1058.1,433.8 L1059.4,441.2 L1061.0,448.8 L1061.9,463.8 L1062.8,477.5 L1064.0,475.0 L1065.0,461.2 L1066.0,450.6 L1067.2,450.0 L1068.1,456.2 L1069.8,456.9 L1071.2,460.0 L1072.5,466.2 L1073.8,462.5 L1074.7,461.5 L1075.6,469.4 L1077.2,473.0 L1078.8,475.0 L1080.0,476.9 L1081.0,470.0 L1081.9,451.2 L1082.8,435.0 L1084.0,432.5 L1085.0,427.5 L1086.0,419.5 L1086.9,426.2 L1087.5,437.5 L1088.5,432.5 L1090.0,433.8 L1091.5,438.8 L1093.1,440.6 L1095.0,441.2 L1096.5,443.0 L1097.8,455.0 L1099.0,447.5 L1100.2,445.0 L1101.5,447.5 L1102.8,451.2 L1104.0,453.8 L1104.8,463.8 L1105.6,480.0 L1106.9,476.2 L1107.8,474.5 L1109.0,478.0 L1110.2,475.0 L1111.2,468.8 L1112.5,465.6 L1113.8,462.5 L1114.8,456.2 L1115.6,451.2 L1116.5,455.0 L1117.5,451.9 L1118.5,452.5 L1119.4,462.5 L1120.2,472.5 L1121.5,476.2 L1122.5,485.0 L1123.5,493.8 L1124.6,500.0 L1125.6,506.9 L1126.5,509.4 L1127.5,503.8 L1128.2,501.9 L1129.0,506.2 L1129.8,516.2 L1130.6,523.8 L1131.5,528.0 L1132.5,522.5 L1133.5,520.6 L1134.4,528.8 L1135.2,537.5 L1136.2,541.2 L1137.5,544.4 L1138.5,538.8 L1139.4,532.5 L1140.6,533.8 L1141.5,532.5 L1142.5,537.5 L1143.8,535.6 L1145.0,532.5 L1146.2,530.0 L1147.2,525.0 L1148.1,520.0 L1149.0,516.9 L1150.0,515.6 L1151.2,517.5 L1152.5,520.0 L1153.5,517.5 L1154.4,513.8 L1155.4,512.5 L1156.5,516.2 L1157.8,520.0 L1158.8,523.8 L1159.8,532.5 L1161.0,536.2 L1161.9,538.8 L1162.8,547.5 L1163.8,553.0 L1165.0,551.9 L1166.0,548.8 L1166.9,540.0 L1167.8,530.0 L1168.5,520.0 L1169.4,510.0 L1170.0,501.2 L1170.6,498.0 L1170.6,521.5 L89.2,521.5 Z" fill="#7a75ff" fill-opacity="0.5" stroke="none"/>
<path d="M89.2,604.0 L89.7,610.0 L90.2,614.6 L91.5,607.5 L93.0,600.0 L94.5,591.5 L95.6,584.0 L96.5,572.0 L97.5,558.8 L98.8,566.0 L100.6,581.0 L102.5,576.0 L105.0,570.0 L108.0,563.8 L110.6,561.0 L113.0,565.6 L115.6,563.0 L118.0,557.5 L120.6,552.5 L123.0,547.5 L125.0,542.5 L126.2,536.0 L127.5,530.0 L128.1,515.0 L128.8,496.0 L129.4,465.0 L129.8,440.0 L130.0,420.0 L131.9,410.0 L133.1,403.8 L134.4,408.8 L135.0,412.5 L136.0,402.5 L136.5,381.2 L137.2,362.5 L137.8,350.0 L138.8,345.0 L140.6,342.5 L141.9,336.2 L143.1,335.0 L144.4,330.0 L145.6,318.8 L146.9,321.2 L147.5,327.5 L148.5,310.0 L149.4,293.0 L150.6,295.0 L151.9,298.8 L153.1,303.8 L154.4,310.0 L156.2,303.8 L157.2,310.0 L158.1,326.2 L159.0,341.2 L160.0,347.5 L160.6,350.0 L161.5,356.0 L161.9,345.0 L162.8,335.0 L163.5,310.0 L164.0,285.0 L164.6,268.0 L165.6,268.0 L166.2,278.8 L167.2,277.5 L168.8,283.8 L170.2,290.0 L171.0,301.2 L171.9,313.8 L172.5,318.8 L173.1,330.0 L174.0,345.0 L174.4,350.0 L174.5,360.0 L175.6,370.0 L177.5,373.8 L178.8,371.2 L179.4,381.2 L180.2,400.0 L181.2,420.0 L183.1,430.0 L185.0,437.5 L185.6,440.0 L186.2,452.5 L187.2,477.5 L187.8,500.0 L188.2,509.4 L189.4,502.5 L190.2,477.5 L191.0,452.5 L191.2,440.0 L191.2,420.0 L191.5,400.0 L191.9,387.5 L192.8,381.2 L193.8,385.0 L194.4,372.5 L195.0,360.0 L195.3,350.0 L195.4,335.0 L195.6,316.2 L196.9,311.2 L198.8,310.0 L200.6,311.9 L201.9,321.2 L203.1,326.2 L204.0,335.0 L205.0,340.0 L206.0,342.5 L206.9,361.9 L208.1,337.5 L209.1,333.8 L210.0,340.0 L211.2,347.5 L213.8,358.8 L215.6,363.8 L216.9,373.8 L218.1,376.9 L219.4,375.0 L220.2,362.5 L220.6,350.0 L221.0,335.0 L221.5,322.5 L223.1,323.8 L225.0,321.9 L226.0,330.0 L226.9,337.5 L227.8,347.5 L228.8,356.2 L230.0,368.8 L230.6,387.5 L231.5,406.2 L232.5,420.0 L233.8,430.0 L235.0,433.8 L236.2,425.0 L236.9,406.2 L238.1,402.5 L239.4,400.6 L240.6,408.8 L241.5,420.0 L242.2,431.2 L242.8,440.0 L243.5,443.0 L245.5,441.0 L247.0,440.0 L248.1,446.2 L249.4,465.0 L250.2,476.2 L251.9,477.5 L252.5,490.0 L253.5,506.2 L254.4,511.2 L255.6,507.5 L256.9,501.9 L258.1,508.8 L260.0,511.2 L261.2,516.2 L263.1,517.5 L265.0,511.9 L266.2,520.0 L267.5,531.0 L268.8,525.0 L270.0,515.0 L271.2,505.6 L272.5,507.5 L273.5,515.0 L274.4,525.0 L276.2,527.5 L277.8,530.0 L278.5,542.5 L279.4,556.2 L280.2,555.0 L281.0,545.6 L281.9,553.8 L283.1,556.2 L284.0,570.0 L285.6,570.0 L287.2,566.9 L288.1,571.2 L289.0,580.0 L289.8,586.2 L290.6,580.0 L291.5,567.5 L292.5,559.4 L294.0,558.0 L294.8,548.8 L295.2,540.0 L295.3,530.0 L295.4,515.0 L295.6,496.2 L296.5,481.2 L298.1,471.2 L299.4,465.6 L300.6,473.8 L301.5,476.2 L302.5,471.2 L303.8,472.0 L305.6,465.0 L307.5,460.0 L309.4,454.4 L310.2,465.0 L311.2,472.5 L312.5,478.8 L313.8,483.0 L315.0,478.8 L316.2,467.5 L317.5,462.5 L318.8,457.5 L319.8,456.2 L320.6,465.0 L321.9,467.5 L323.1,467.0 L324.4,461.2 L326.0,456.9 L327.2,461.2 L328.8,463.0 L329.8,466.2 L330.6,477.5 L331.5,481.9 L333.1,481.2 L334.4,484.4 L336.2,488.8 L338.1,492.5 L339.0,495.0 L339.8,490.0 L340.6,493.8 L342.5,497.5 L344.4,500.0 L345.6,496.2 L346.5,490.0 L347.2,488.0 L348.5,493.8 L350.0,498.8 L351.9,501.9 L353.8,505.0 L354.8,510.0 L355.2,521.2 L355.6,530.0 L356.0,548.8 L356.5,567.5 L357.5,573.8 L358.8,574.4 L359.8,573.0 L361.0,577.5 L362.5,572.5 L363.8,577.0 L365.6,577.5 L367.2,578.8 L368.1,567.5 L369.4,553.0 L370.2,565.0 L371.2,577.5 L372.2,583.0 L373.8,581.2 L375.0,585.0 L376.2,586.9 L378.1,581.9 L379.8,587.5 L381.0,590.0 L381.9,595.0 L383.1,588.8 L384.8,582.5 L386.2,579.4 L387.8,581.9 L389.4,573.8 L391.0,570.6 L392.5,576.2 L394.4,577.5 L395.6,578.0 L396.5,583.0 L397.8,580.0 L398.8,575.0 L399.8,566.2 L401.0,560.0 L402.2,557.5 L402.8,549.0 L403.5,536.9 L404.8,546.9 L406.2,543.0 L408.1,534.4 L409.8,532.2 L411.2,536.9 L412.5,540.0 L413.5,547.5 L414.4,550.6 L415.6,547.5 L417.2,543.0 L418.1,535.0 L418.8,522.5 L419.4,510.0 L420.0,505.0 L420.6,503.8 L421.9,490.0 L423.1,475.0 L424.8,471.2 L425.2,458.8 L426.0,440.0 L426.2,412.5 L426.5,387.5 L427.5,375.0 L428.5,368.8 L429.8,371.9 L430.6,369.0 L431.9,362.5 L433.5,358.8 L435.0,353.8 L435.6,343.8 L436.2,351.2 L437.2,355.0 L437.8,348.8 L439.4,345.0 L440.6,346.2 L441.5,340.0 L442.2,327.5 L442.8,315.0 L443.5,306.2 L445.0,301.2 L446.9,299.0 L448.1,305.0 L449.0,315.0 L449.8,310.0 L450.8,303.0 L451.9,310.0 L453.1,317.5 L454.4,310.0 L455.2,305.6 L456.2,312.5 L457.2,320.0 L458.5,315.0 L459.8,318.8 L461.0,327.5 L461.9,335.0 L462.8,341.2 L463.8,336.2 L464.8,335.0 L465.6,342.5 L466.5,335.0 L467.5,327.5 L468.5,317.5 L469.0,297.5 L469.5,278.8 L470.2,266.2 L470.6,260.0 L471.5,248.0 L472.5,248.8 L473.1,256.2 L474.8,257.5 L476.0,265.0 L476.2,267.5 L476.9,285.0 L477.2,303.8 L477.8,315.0 L478.8,321.2 L479.5,310.0 L480.2,301.2 L481.2,307.5 L482.2,316.2 L483.1,325.0 L484.0,335.0 L484.8,339.4 L485.6,325.0 L486.5,312.5 L487.8,305.6 L489.0,310.0 L490.0,316.2 L491.0,322.5 L491.9,330.0 L492.8,338.8 L493.8,347.5 L494.8,350.0 L496.0,357.5 L497.2,366.2 L498.5,361.2 L499.4,350.0 L499.8,335.0 L500.2,321.9 L501.0,335.0 L501.5,350.0 L501.9,357.5 L503.1,362.5 L504.4,370.0 L505.6,378.8 L506.9,368.8 L507.2,356.2 L507.8,345.6 L508.8,350.0 L509.8,362.5 L510.2,378.8 L511.0,400.0 L511.9,420.0 L513.1,427.5 L514.8,432.5 L515.4,440.0 L516.2,452.5 L517.5,467.5 L518.1,480.0 L519.0,476.9 L520.0,481.2 L521.0,496.2 L521.9,515.0 L522.5,518.0 L523.8,512.5 L524.8,502.5 L526.0,493.8 L527.5,490.0 L528.8,483.8 L529.8,477.5 L530.6,487.5 L531.5,493.8 L532.5,488.8 L533.8,495.0 L535.0,500.0 L536.0,501.9 L537.2,497.5 L538.1,487.5 L539.0,473.8 L540.0,458.8 L541.2,447.5 L542.5,440.0 L543.5,425.0 L544.4,410.0 L545.2,397.5 L546.2,388.8 L547.8,393.8 L548.9,392.5 L550.0,388.8 L551.2,393.8 L552.5,400.0 L553.8,402.5 L554.8,406.2 L556.2,402.5 L557.2,392.5 L558.0,375.0 L558.5,362.5 L559.0,350.0 L559.5,322.5 L560.0,297.5 L560.3,272.5 L560.6,259.4 L561.9,261.2 L563.0,259.0 L563.8,250.0 L564.4,225.0 L565.2,212.5 L566.0,206.2 L567.5,200.0 L568.8,185.0 L570.0,170.0 L571.2,155.0 L572.5,141.2 L573.8,131.2 L574.8,125.0 L575.6,126.2 L576.0,135.0 L576.5,160.0 L577.2,180.0 L578.1,195.0 L578.4,200.0 L578.8,210.0 L579.8,215.0 L580.6,231.2 L581.2,250.0 L581.9,265.0 L582.2,267.5 L582.8,250.0 L583.1,236.9 L583.8,250.0 L584.8,267.5 L585.5,255.0 L586.2,237.5 L586.9,218.8 L587.5,206.2 L588.1,199.4 L589.0,200.0 L590.0,206.2 L591.0,215.0 L591.9,231.2 L592.8,250.0 L593.8,262.5 L594.5,275.0 L595.0,285.0 L595.6,303.8 L596.2,320.0 L596.9,330.0 L597.8,337.5 L599.0,345.0 L599.8,356.2 L600.8,348.0 L601.9,340.0 L602.8,347.5 L603.5,356.2 L604.4,366.2 L605.2,375.0 L606.0,387.5 L606.5,400.0 L607.0,412.5 L607.5,427.5 L607.8,440.0 L608.1,456.2 L609.4,458.0 L610.0,475.0 L611.2,487.5 L612.2,496.2 L613.1,486.2 L614.4,480.0 L616.2,470.6 L618.1,470.0 L618.8,481.2 L619.8,497.5 L620.6,502.5 L621.5,511.2 L622.8,512.5 L623.8,517.5 L624.8,530.0 L625.2,548.8 L626.0,566.2 L626.9,570.0 L627.8,563.8 L628.5,548.8 L629.4,530.0 L630.0,525.0 L631.0,526.0 L631.9,530.0 L633.1,540.0 L634.4,548.8 L635.6,552.5 L636.5,560.0 L637.8,555.0 L638.8,553.0 L639.7,552.0 L640.6,542.5 L641.2,530.0 L641.5,521.2 L642.8,516.2 L644.0,512.5 L645.0,513.5 L646.0,500.0 L646.9,483.8 L647.8,487.5 L648.8,497.5 L650.0,507.5 L651.2,500.0 L653.1,498.8 L654.0,507.5 L655.2,515.0 L656.9,513.8 L658.1,516.2 L659.4,513.8 L660.6,505.0 L661.9,495.0 L662.8,488.0 L664.4,489.4 L665.6,500.0 L666.9,498.8 L667.8,496.9 L668.6,505.0 L669.0,512.5 L669.8,503.8 L671.0,510.0 L672.2,516.2 L673.5,517.5 L674.4,515.0 L675.6,522.5 L676.9,527.5 L678.1,530.0 L679.4,538.8 L681.0,540.0 L681.9,548.8 L682.5,563.8 L684.4,563.0 L686.0,566.2 L687.2,567.5 L688.5,570.0 L689.4,560.0 L690.2,546.9 L691.0,555.0 L691.9,570.0 L692.8,586.2 L693.5,602.5 L694.4,612.5 L695.6,602.5 L696.5,601.0 L697.2,610.0 L698.1,601.2 L699.4,593.8 L700.3,594.5 L701.2,598.0 L702.2,592.5 L703.1,580.0 L704.0,565.0 L705.0,552.5 L706.0,542.5 L706.9,540.0 L707.8,536.2 L708.8,533.0 L709.8,530.0 L709.9,521.2 L711.0,515.0 L711.9,512.5 L713.1,520.0 L714.4,525.0 L714.7,531.0 L715.0,535.0 L715.1,530.0 L715.2,517.5 L716.2,506.2 L717.2,501.2 L718.5,498.8 L719.4,497.5 L720.2,510.0 L721.2,517.5 L722.2,528.0 L723.1,540.0 L723.9,553.0 L724.8,570.0 L725.6,586.2 L726.5,605.0 L727.2,619.0 L728.1,602.5 L729.0,586.2 L729.8,567.5 L730.6,556.2 L731.9,555.0 L732.8,558.8 L733.8,568.8 L734.8,561.2 L735.6,560.0 L736.9,574.4 L738.1,567.5 L739.3,566.0 L740.2,563.8 L741.2,570.0 L742.2,561.2 L743.5,556.9 L744.4,552.5 L745.2,542.5 L746.0,530.0 L746.9,522.5 L747.8,526.0 L748.2,530.0 L749.0,542.5 L749.8,555.0 L750.6,565.6 L752.2,567.5 L753.8,571.2 L755.0,576.2 L756.2,572.5 L757.5,577.5 L759.0,580.0 L760.0,588.8 L761.0,599.4 L762.2,596.2 L763.1,590.0 L764.0,580.0 L765.0,570.0 L766.2,561.2 L767.2,551.2 L768.1,542.5 L769.0,539.4 L770.0,546.2 L771.0,554.4 L771.9,546.2 L772.5,537.5 L772.8,530.0 L773.1,515.0 L774.0,507.5 L775.0,505.6 L776.5,508.0 L777.8,503.8 L779.4,503.0 L780.6,500.0 L781.9,487.5 L783.1,483.8 L784.4,483.8 L785.2,492.5 L786.2,505.0 L787.2,517.5 L788.1,526.2 L788.8,528.8 L789.8,521.2 L791.0,515.0 L792.2,506.2 L793.1,505.0 L794.0,512.5 L795.0,520.0 L796.0,527.5 L796.5,529.5 L797.2,520.0 L797.8,507.5 L798.8,508.0 L799.8,496.2 L800.6,477.5 L801.5,461.2 L802.8,461.9 L803.5,453.8 L805.0,450.6 L806.5,448.0 L807.8,452.5 L809.0,460.0 L809.8,461.9 L811.0,452.5 L812.2,456.2 L813.1,458.8 L814.0,452.5 L814.5,440.0 L815.0,425.0 L815.6,412.5 L816.9,407.5 L818.1,415.0 L819.0,425.0 L820.0,432.5 L820.8,440.0 L821.5,446.2 L822.3,448.8 L822.9,442.5 L823.2,436.0 L823.5,412.5 L824.0,393.8 L825.0,383.8 L826.5,378.8 L827.2,375.0 L827.8,362.5 L828.1,350.0 L828.8,322.5 L829.4,297.5 L830.0,272.5 L830.6,265.0 L831.5,261.2 L832.3,258.0 L833.1,255.0 L834.4,251.2 L835.6,253.8 L836.9,245.0 L837.8,230.0 L838.8,213.8 L839.8,197.5 L841.0,191.9 L841.9,195.0 L842.8,202.5 L844.0,211.2 L844.8,232.5 L845.2,245.0 L846.2,232.5 L847.2,222.5 L848.1,219.4 L849.4,222.5 L850.6,228.8 L851.5,235.0 L852.5,238.8 L853.1,226.2 L853.8,207.5 L854.5,193.8 L855.2,195.0 L856.0,211.2 L857.2,215.0 L858.1,217.5 L858.8,230.0 L859.8,240.0 L860.6,232.5 L861.9,230.6 L862.8,238.8 L863.8,245.0 L864.8,250.0 L865.6,240.0 L866.5,228.8 L867.5,226.9 L868.5,230.0 L869.0,245.0 L869.2,260.0 L869.4,278.8 L869.8,297.5 L870.2,316.2 L870.6,326.2 L871.5,335.0 L872.2,350.0 L872.8,362.5 L873.1,375.0 L873.5,387.5 L873.8,397.5 L874.8,393.8 L875.6,384.4 L876.2,392.5 L876.9,405.0 L877.8,415.0 L878.8,422.5 L879.8,426.2 L880.6,436.2 L881.8,436.5 L883.1,435.0 L883.8,422.5 L884.8,418.0 L886.0,422.5 L886.9,430.0 L887.8,427.5 L888.4,432.5 L888.8,440.0 L889.8,465.0 L890.6,487.5 L891.2,501.2 L893.1,503.8 L894.4,506.2 L895.2,516.2 L896.2,505.0 L897.2,492.5 L898.1,487.5 L899.0,475.0 L900.0,467.5 L901.2,463.0 L902.5,466.2 L904.0,468.0 L905.2,470.6 L906.0,475.0 L906.9,465.0 L908.1,466.9 L909.0,477.5 L909.8,495.0 L910.6,483.8 L911.5,481.2 L912.2,468.8 L913.5,468.5 L914.4,476.2 L915.2,490.0 L916.0,502.5 L916.9,517.5 L917.8,513.8 L918.5,508.0 L919.4,515.0 L920.6,520.0 L921.9,523.8 L923.1,527.5 L924.4,522.5 L925.6,523.0 L926.9,527.5 L928.2,525.0 L929.8,521.9 L931.0,526.2 L931.9,530.0 L932.8,537.0 L934.4,528.8 L935.6,525.6 L936.9,530.0 L938.0,535.0 L939.4,545.0 L940.0,557.5 L940.6,576.2 L941.5,595.0 L942.5,610.0 L943.5,620.0 L944.3,620.0 L945.0,601.2 L945.6,582.5 L946.5,572.5 L947.2,573.5 L947.8,595.0 L948.1,605.0 L948.8,588.8 L949.4,572.5 L950.2,573.0 L951.0,582.5 L951.9,595.0 L952.8,610.0 L953.5,622.5 L954.0,627.5 L955.0,626.2 L956.2,620.0 L957.5,616.2 L958.8,608.8 L959.8,606.2 L960.9,607.5 L961.9,606.2 L962.8,611.2 L963.8,601.2 L964.8,596.9 L965.6,602.5 L966.9,601.9 L967.8,595.0 L968.5,585.6 L970.0,585.0 L971.9,585.0 L972.5,595.0 L973.5,605.0 L974.8,603.8 L976.0,607.5 L976.9,600.0 L978.1,593.8 L979.4,600.0 L980.2,602.5 L981.2,600.0 L982.2,612.5 L983.1,626.2 L983.8,630.0 L984.8,625.0 L985.8,623.8 L986.5,615.0 L987.2,605.0 L988.1,592.5 L988.8,582.5 L990.0,578.8 L991.2,574.4 L992.8,578.8 L994.0,573.8 L995.2,571.2 L996.5,568.0 L997.5,566.2 L998.1,557.5 L998.8,545.0 L999.0,530.0 L999.4,521.2 L1000.0,508.8 L1001.0,503.8 L1001.9,495.0 L1003.1,492.5 L1004.3,491.5 L1005.2,487.5 L1006.5,484.4 L1007.4,486.0 L1008.1,477.5 L1009.0,468.8 L1010.0,466.2 L1011.2,470.0 L1012.5,475.0 L1013.5,471.2 L1014.4,456.2 L1015.2,443.8 L1015.6,432.5 L1016.2,420.0 L1016.9,407.5 L1018.1,397.5 L1019.0,394.4 L1020.0,398.0 L1021.2,395.0 L1022.5,393.0 L1023.5,397.5 L1024.4,392.5 L1025.6,390.0 L1026.9,386.9 L1028.1,377.5 L1029.0,365.0 L1029.8,348.8 L1030.4,340.0 L1031.5,340.6 L1032.2,355.0 L1033.1,367.5 L1033.8,373.8 L1034.8,361.9 L1036.0,365.0 L1036.9,371.2 L1037.8,377.5 L1038.5,386.2 L1039.4,397.5 L1040.2,405.0 L1041.2,406.2 L1042.2,400.0 L1043.1,397.5 L1044.4,402.5 L1045.6,408.8 L1046.5,411.9 L1047.5,405.0 L1048.8,402.5 L1049.8,395.0 L1050.6,387.5 L1051.4,388.5 L1052.2,400.0 L1052.9,410.0 L1053.3,420.0 L1053.8,428.8 L1055.2,431.2 L1056.5,423.8 L1057.3,425.0 L1058.1,433.8 L1059.4,441.2 L1061.0,448.8 L1061.9,463.8 L1062.8,477.5 L1064.0,475.0 L1065.0,461.2 L1066.0,450.6 L1067.2,450.0 L1068.1,456.2 L1069.8,456.9 L1071.2,460.0 L1072.5,466.2 L1073.8,462.5 L1074.7,461.5 L1075.6,469.4 L1077.2,473.0 L1078.8,475.0 L1080.0,476.9 L1081.0,470.0 L1081.9,451.2 L1082.8,435.0 L1084.0,432.5 L1085.0,427.5 L1086.0,419.5 L1086.9,426.2 L1087.5,437.5 L1088.5,432.5 L1090.0,433.8 L1091.5,438.8 L1093.1,440.6 L1095.0,441.2 L1096.5,443.0 L1097.8,455.0 L1099.0,447.5 L1100.2,445.0 L1101.5,447.5 L1102.8,451.2 L1104.0,453.8 L1104.8,463.8 L1105.6,480.0 L1106.9,476.2 L1107.8,474.5 L1109.0,478.0 L1110.2,475.0 L1111.2,468.8 L1112.5,465.6 L1113.8,462.5 L1114.8,456.2 L1115.6,451.2 L1116.5,455.0 L1117.5,451.9 L1118.5,452.5 L1119.4,462.5 L1120.2,472.5 L1121.5,476.2 L1122.5,485.0 L1123.5,493.8 L1124.6,500.0 L1125.6,506.9 L1126.5,509.4 L1127.5,503.8 L1128.2,501.9 L1129.0,506.2 L1129.8,516.2 L1130.6,523.8 L1131.5,528.0 L1132.5,522.5 L1133.5,520.6 L1134.4,528.8 L1135.2,537.5 L1136.2,541.2 L1137.5,544.4 L1138.5,538.8 L1139.4,532.5 L1140.6,533.8 L1141.5,532.5 L1142.5,537.5 L1143.8,535.6 L1145.0,532.5 L1146.2,530.0 L1147.2,525.0 L1148.1,520.0 L1149.0,516.9 L1150.0,515.6 L1151.2,517.5 L1152.5,520.0 L1153.5,517.5 L1154.4,513.8 L1155.4,512.5 L1156.5,516.2 L1157.8,520.0 L1158.8,523.8 L1159.8,532.5 L1161.0,536.2 L1161.9,538.8 L1162.8,547.5 L1163.8,553.0 L1165.0,551.9 L1166.0,548.8 L1166.9,540.0 L1167.8,530.0 L1168.5,520.0 L1169.4,510.0 L1170.0,501.2 L1170.6,498.0" fill="none" stroke="#7b79ff" stroke-width="2" stroke-linejoin="round" stroke-linecap="round"/>
<line x1="89" x2="1171" y1="119.5" y2="119.5" stroke="#962323" stroke-width="1.5" stroke-dasharray="4.16,3.12"/>
<line x1="89" x2="1171" y1="292.5" y2="292.5" stroke="#7270e6" stroke-width="1.4" stroke-dasharray="4.16,3.12"/>
<line x1="89" x2="1171" y1="590.8" y2="590.8" stroke="#90761c" stroke-width="1.9" stroke-dasharray="4.16,3.12"/>
<path d="M90.6,613.0 L97.5,605.0 L103.8,598.0 L110.0,590.0 L116.2,580.0 L122.5,568.8 L127.5,558.8 L130.0,550.0 L132.5,540.0 L134.4,530.0 L137.5,510.0 L140.6,483.8 L143.8,462.5 L147.2,440.0 L150.0,415.0 L152.5,397.5 L155.0,380.0 L157.5,363.8 L160.0,352.5 L160.6,350.0 L163.1,337.5 L165.6,327.5 L168.1,321.2 L171.2,316.9 L173.8,316.5 L176.2,318.8 L178.8,323.0 L180.6,328.8 L182.5,336.2 L184.4,343.8 L185.6,350.0 L187.5,360.0 L189.4,370.0 L191.9,376.9 L195.0,380.0 L198.8,383.8 L203.8,387.2 L208.0,385.0 L211.2,380.0 L214.4,373.8 L216.9,367.5 L219.4,360.0 L221.9,350.0 L223.8,343.8 L225.6,340.6 L228.1,342.5 L230.0,345.6 L231.9,350.0 L235.0,360.0 L238.8,368.8 L241.9,376.2 L244.4,385.0 L247.5,392.5 L250.0,401.2 L252.5,412.5 L254.4,422.5 L256.2,432.5 L258.1,442.5 L260.0,451.5 L262.5,461.5 L265.6,472.5 L268.8,482.5 L271.9,492.5 L275.0,501.2 L278.1,510.0 L281.2,517.5 L284.4,523.8 L286.9,529.5 L290.0,535.0 L293.1,540.6 L295.0,542.5 L297.5,540.6 L300.0,536.2 L303.1,531.9 L305.0,529.5 L308.8,521.2 L312.5,512.5 L316.2,501.2 L320.0,488.8 L323.1,478.8 L325.6,471.2 L327.5,467.5 L330.6,466.9 L333.8,468.0 L337.5,471.2 L341.2,475.0 L345.0,477.5 L348.8,480.0 L352.5,484.4 L355.6,488.8 L357.5,495.0 L359.4,502.5 L361.9,510.0 L364.4,517.5 L366.9,523.8 L368.8,530.0 L372.5,541.0 L376.2,552.0 L380.0,562.0 L383.8,571.5 L386.9,578.0 L390.0,579.6 L395.0,579.5 L400.0,579.8 L402.5,579.4 L405.0,576.2 L408.1,571.9 L411.2,566.9 L414.4,562.5 L417.5,558.0 L420.0,553.0 L422.5,547.5 L424.4,541.2 L426.2,532.5 L427.5,523.8 L428.8,515.0 L429.4,512.5 L431.9,495.0 L434.4,477.5 L436.9,462.5 L439.4,448.8 L441.2,440.0 L442.5,427.5 L444.4,412.5 L446.2,397.5 L448.1,383.8 L450.0,372.5 L451.9,362.5 L453.8,353.8 L454.8,350.0 L456.2,340.0 L458.1,333.8 L460.6,329.4 L463.8,326.2 L466.9,323.8 L468.8,318.8 L470.6,313.8 L472.5,310.0 L475.0,307.8 L478.8,307.5 L482.5,308.0 L486.2,308.8 L491.2,310.0 L495.0,311.0 L498.1,312.5 L500.6,315.0 L502.5,320.0 L503.8,325.0 L505.0,330.0 L506.5,335.0 L508.1,338.8 L510.0,342.5 L511.5,347.5 L512.2,350.0 L514.4,357.5 L516.9,367.5 L519.4,380.0 L521.9,392.5 L524.4,405.0 L526.9,417.5 L529.4,428.8 L531.2,438.0 L533.8,448.8 L536.2,458.8 L538.1,466.2 L540.0,473.8 L542.5,478.0 L545.0,477.5 L547.5,473.8 L550.6,465.0 L553.8,456.2 L556.2,447.5 L558.8,440.0 L560.6,425.0 L562.5,410.0 L564.4,397.5 L565.6,387.5 L566.9,375.0 L568.1,362.5 L569.4,350.0 L570.6,335.0 L572.5,316.2 L574.4,297.5 L576.0,284.0 L577.7,273.0 L579.6,264.0 L581.9,252.5 L584.4,243.8 L586.9,233.8 L588.8,225.0 L590.6,216.2 L592.5,213.0 L595.0,215.0 L596.9,221.2 L598.8,228.8 L600.6,237.5 L602.5,247.5 L604.0,258.0 L605.2,270.0 L606.5,280.0 L607.8,291.2 L609.0,302.5 L610.2,312.5 L611.5,322.5 L612.8,332.5 L614.0,341.2 L615.2,350.0 L616.9,362.5 L618.5,375.0 L620.0,387.5 L621.5,400.0 L622.9,412.5 L624.4,425.0 L626.0,439.0 L627.5,452.5 L629.4,465.0 L631.2,476.2 L633.1,487.5 L635.0,497.5 L636.9,507.5 L638.8,515.0 L641.2,521.2 L644.4,525.0 L647.5,527.5 L651.2,528.5 L655.0,527.5 L658.1,524.4 L661.2,520.6 L664.4,516.2 L666.9,512.5 L669.4,508.0 L671.9,505.6 L675.0,505.0 L677.5,506.2 L680.0,510.0 L682.5,513.8 L685.0,518.0 L688.1,523.0 L691.2,527.5 L692.5,530.5 L694.4,537.5 L696.9,546.2 L699.4,553.8 L701.9,560.0 L704.4,565.0 L706.9,568.0 L708.8,568.8 L711.2,567.5 L713.8,565.0 L716.2,560.6 L719.4,555.0 L723.1,551.2 L726.9,549.8 L730.0,547.5 L733.1,543.8 L735.0,543.0 L737.5,545.0 L740.6,548.8 L743.8,553.0 L747.5,554.4 L750.0,558.0 L753.1,561.9 L756.2,563.8 L759.4,561.2 L762.5,563.0 L765.0,565.0 L767.5,564.4 L770.6,561.9 L773.8,558.8 L776.9,555.0 L780.0,551.2 L782.5,547.5 L785.0,541.2 L788.1,535.6 L791.2,529.5 L793.8,523.8 L796.9,517.5 L800.0,511.2 L803.1,503.8 L806.2,497.5 L810.0,491.2 L813.8,486.2 L816.2,482.5 L818.1,476.2 L820.6,468.8 L823.1,461.2 L825.6,452.5 L827.5,445.0 L828.5,440.0 L830.0,425.0 L831.9,410.0 L834.0,396.2 L836.2,382.5 L838.1,371.2 L840.0,360.0 L841.6,350.0 L843.1,335.0 L845.0,320.0 L846.9,306.2 L848.8,292.5 L850.6,281.2 L852.5,271.2 L854.8,260.0 L856.2,250.0 L858.1,241.2 L860.0,236.2 L861.9,232.5 L864.4,230.0 L866.9,228.8 L868.8,228.8 L870.2,232.5 L871.9,241.2 L873.5,250.0 L875.0,259.5 L876.9,270.0 L878.8,281.2 L880.6,292.5 L882.5,303.8 L884.4,315.0 L886.2,327.5 L888.1,340.0 L889.6,350.0 L890.6,360.0 L891.9,370.0 L893.1,380.0 L894.4,391.2 L895.6,402.5 L897.2,415.0 L898.8,427.5 L900.6,440.0 L902.5,447.5 L905.0,455.0 L908.1,462.5 L911.2,468.8 L914.4,474.4 L916.9,480.0 L919.4,485.6 L921.9,489.4 L925.0,491.2 L928.1,494.4 L931.2,498.8 L933.8,504.4 L936.2,509.4 L938.8,514.4 L940.6,520.0 L942.5,526.2 L943.8,530.0 L948.1,545.0 L951.2,553.8 L954.4,562.5 L957.5,571.2 L960.6,580.0 L963.8,587.5 L966.9,593.8 L970.0,598.8 L973.8,601.2 L977.5,601.9 L981.2,603.8 L984.4,605.6 L987.5,603.8 L990.6,600.0 L993.8,596.9 L996.9,593.8 L999.4,588.8 L1001.2,582.5 L1003.1,576.2 L1005.0,570.0 L1006.9,563.8 L1008.8,557.5 L1010.6,551.2 L1012.2,545.0 L1014.0,536.0 L1015.6,527.5 L1017.5,515.0 L1019.4,502.5 L1021.2,490.0 L1023.1,477.5 L1025.0,466.2 L1026.9,456.2 L1028.8,447.5 L1030.6,440.0 L1032.5,427.5 L1034.4,420.0 L1036.2,412.5 L1038.1,406.2 L1040.0,401.2 L1041.9,396.2 L1043.8,392.5 L1046.2,388.8 L1048.8,387.5 L1051.2,387.2 L1053.8,388.8 L1056.2,391.9 L1058.8,396.2 L1060.6,400.6 L1062.5,406.2 L1064.4,412.5 L1066.2,418.0 L1066.9,420.0 L1070.0,427.5 L1073.1,433.8 L1076.2,440.6 L1078.8,446.2 L1081.2,451.2 L1083.8,454.4 L1087.5,455.6 L1091.2,455.0 L1094.4,453.0 L1097.5,450.6 L1101.2,449.8 L1105.0,450.0 L1110.0,450.2 L1115.0,450.2 L1118.1,453.8 L1121.2,457.5 L1125.0,463.8 L1128.8,471.2 L1132.5,480.0 L1135.0,487.5 L1138.1,495.0 L1141.2,501.2 L1144.4,507.5 L1146.9,512.5 L1149.4,515.6 L1151.9,520.0 L1155.0,523.8 L1158.8,526.2 L1162.5,528.8 L1165.6,531.2 L1168.1,530.0 L1170.6,528.0" fill="none" stroke="#7876f2" stroke-opacity="0.9" stroke-width="1.15" stroke-dasharray="1.9,1.22" stroke-linejoin="round"/>
<text x="97" y="117.3" font-family="Liberation Sans, sans-serif" font-size="13" fill="#9a99a3">70%</text>
<text x="97" y="290.3" font-family="Liberation Sans, sans-serif" font-size="13" fill="#9a99a3">40%</text>
<text x="97.5" y="588.3" font-family="Liberation Sans, sans-serif" font-size="13" fill="#9a99a3">-12%</text>
<line x1="82.2" x2="82.2" y1="100" y2="655.5" stroke="#7b79fb" stroke-width="2"/>
<line x1="1177.6" x2="1177.6" y1="100" y2="655.5" stroke="#3d3d46" stroke-width="1.3"/>
<line x1="1178.7" x2="1178.7" y1="100" y2="655.5" stroke="#242440" stroke-width="0.9"/>
<line x1="88.7" x2="1171" y1="656.5" y2="656.5" stroke="#3f3f47" stroke-width="1.3"/>
<line x1="116.25" x2="116.25" y1="657" y2="664" stroke="#2a2a4c" stroke-width="1.2"/>
<text x="116.75" y="680" text-anchor="middle" font-family="Liberation Sans, sans-serif" font-size="13" fill="#aaa9b3" textLength="54.5" lengthAdjust="spacingAndGlyphs">2023 Jan</text>
<line x1="242.0" x2="242.0" y1="657" y2="664" stroke="#2a2a4c" stroke-width="1.2"/>
<text x="242.5" y="680" text-anchor="middle" font-family="Liberation Sans, sans-serif" font-size="13" fill="#aaa9b3" textLength="57.3" lengthAdjust="spacingAndGlyphs">2023 May</text>
<line x1="371.0" x2="371.0" y1="657" y2="664" stroke="#2a2a4c" stroke-width="1.2"/>
<text x="371.5" y="680" text-anchor="middle" font-family="Liberation Sans, sans-serif" font-size="13" fill="#aaa9b3" textLength="55.8" lengthAdjust="spacingAndGlyphs">2023 Sep</text>
<line x1="498.8" x2="498.8" y1="657" y2="664" stroke="#2a2a4c" stroke-width="1.2"/>
<text x="499.3" y="680" text-anchor="middle" font-family="Liberation Sans, sans-serif" font-size="13" fill="#aaa9b3" textLength="54.5" lengthAdjust="spacingAndGlyphs">2024 Jan</text>
<line x1="625.7" x2="625.7" y1="657" y2="664" stroke="#2a2a4c" stroke-width="1.2"/>
<text x="626.2" y="680" text-anchor="middle" font-family="Liberation Sans, sans-serif" font-size="13" fill="#aaa9b3" textLength="57.3" lengthAdjust="spacingAndGlyphs">2024 May</text>
<line x1="754.6" x2="754.6" y1="657" y2="664" stroke="#2a2a4c" stroke-width="1.2"/>
<text x="755.1" y="680" text-anchor="middle" font-family="Liberation Sans, sans-serif" font-size="13" fill="#aaa9b3" textLength="55.8" lengthAdjust="spacingAndGlyphs">2024 Sep</text>
<line x1="882.5" x2="882.5" y1="657" y2="664" stroke="#2a2a4c" stroke-width="1.2"/>
<text x="883.0" y="680" text-anchor="middle" font-family="Liberation Sans, sans-serif" font-size="13" fill="#aaa9b3" textLength="54.5" lengthAdjust="spacingAndGlyphs">2025 Jan</text>
<line x1="1008.3" x2="1008.3" y1="657" y2="664" stroke="#2a2a4c" stroke-width="1.2"/>
<text x="1008.8" y="680" text-anchor="middle" font-family="Liberation Sans, sans-serif" font-size="13" fill="#aaa9b3" textLength="57.3" lengthAdjust="spacingAndGlyphs">2025 May</text>
<line x1="1137.2" x2="1137.2" y1="657" y2="664" stroke="#2a2a4c" stroke-width="1.2"/>
<text x="1137.7" y="680" text-anchor="middle" font-family="Liberation Sans, sans-serif" font-size="13" fill="#aaa9b3" textLength="55.8" lengthAdjust="spacingAndGlyphs">2025 Sep</text>
<text x="70.2" y="239.0" text-anchor="end" font-family="Liberation Sans, sans-serif" font-size="16.5" fill="#ffffff">50</text>
<text x="70.2" y="383.0" text-anchor="end" font-family="Liberation Sans, sans-serif" font-size="16.5" fill="#ffffff">25</text>
<text x="70.2" y="527.0" text-anchor="end" font-family="Liberation Sans, sans-serif" font-size="16.5" fill="#ffffff">0</text>
<text x="1190" y="167.0" font-family="Liberation Sans, sans-serif" font-size="16" fill="#ffffff">100K</text>
<text x="1190" y="190.0" font-family="Liberation Sans, sans-serif" font-size="16" fill="#ffffff">90K</text>
<text x="1190" y="215.0" font-family="Liberation Sans, sans-serif" font-size="16" fill="#ffffff">80K</text>
<text x="1190" y="244.0" font-family="Liberation Sans, sans-serif" font-size="16" fill="#ffffff">70K</text>
<text x="1190" y="277.0" font-family="Liberation Sans, sans-serif" font-size="16" fill="#ffffff">60K</text>
<text x="1190" y="316.0" font-family="Liberation Sans, sans-serif" font-size="16" fill="#ffffff">50K</text>
<text x="1190" y="364.0" font-family="Liberation Sans, sans-serif" font-size="16" fill="#ffffff">40K</text>
<text x="1190" y="426.0" font-family="Liberation Sans, sans-serif" font-size="16" fill="#ffffff">30K</text>
<text x="1190" y="513.0" font-family="Liberation Sans, sans-serif" font-size="16" fill="#ffffff">20K</text>
<text x="1190" y="662.0" font-family="Liberation Sans, sans-serif" font-size="16" fill="#ffffff">10K</text>
<text transform="translate(43.5,378) rotate(-90)" text-anchor="middle" font-family="Liberation Sans, sans-serif" font-size="16" fill="#ffffff" textLength="156" lengthAdjust="spacingAndGlyphs">Profit/Loss Margin (%)</text>
<text transform="translate(1236.6,377.7) rotate(90)" text-anchor="middle" font-family="Liberation Sans, sans-serif" font-size="16" fill="#ffffff" textLength="59" lengthAdjust="spacingAndGlyphs">Price ($)</text>
<text x="263.6" y="45.3" font-family="Liberation Sans, sans-serif" font-size="24" font-weight="bold" fill="#ffffff" textLength="747.5" lengthAdjust="spacingAndGlyphs">Bitcoin: On-chain Trader Realized Price and Profit/Loss Margin*</text>
<line x1="340.8" x2="359.5" y1="73.5" y2="73.5" stroke="#ad2670" stroke-width="1.6"/>
<text x="364.5" y="77.5" font-family="Liberation Sans, sans-serif" font-size="16" fill="#ffffff" textLength="97.5" lengthAdjust="spacingAndGlyphs">Realized Price</text>
<line x1="478" x2="497.5" y1="73.5" y2="73.5" stroke="#ffffff" stroke-width="1.6"/>
<text x="502.5" y="77.5" font-family="Liberation Sans, sans-serif" font-size="16" fill="#ffffff" textLength="34.5" lengthAdjust="spacingAndGlyphs">Price</text>
<circle cx="563.8" cy="70.5" r="8" fill="#7b79fb"/>
<text x="578.3" y="77.5" font-family="Liberation Sans, sans-serif" font-size="16" fill="#ffffff" textLength="125.5" lengthAdjust="spacingAndGlyphs">Profit/Loss Margin</text>
<line x1="720" x2="739.3" y1="73.5" y2="73.5" stroke="#6f6de0" stroke-width="1" stroke-dasharray="1.5,1.2"/>
<text x="744.5" y="77.5" font-family="Liberation Sans, sans-serif" font-size="16" fill="#ffffff" textLength="195.5" lengthAdjust="spacingAndGlyphs">Profit/Loss Margin-SMA(30)</text>
<text x="498.8" y="700" font-family="Liberation Sans, sans-serif" font-size="12.8" fill="#908f99" textLength="262" lengthAdjust="spacingAndGlyphs">*Bitcoin held between 1 month and 3 months.</text>
<text x="1088.7" y="702" font-family="Liberation Sans, sans-serif" font-size="11" fill="#5a5962" textLength="160" lengthAdjust="spacingAndGlyphs">© CryptoQuant. All rights reserved</text>
<g transform="translate(950,694)" fill="#d4d4d4">
<path d="M0,-14.2 L8.7,-5.5 L5.5,-2.3 L0,-7.8 L-5.5,-2.3 L-8.7,-5.5 Z"/>
<path d="M0,14.2 L8.7,5.5 L5.5,2.3 L0,7.8 L-5.5,2.3 L-8.7,5.5 Z"/>
<path d="M-11,-3.2 L-7.8,0 L-11,3.2 L-14.2,0 Z"/>
<path d="M11,-3.2 L14.2,0 L11,3.2 L7.8,0 Z"/>
<path d="M0,-3.4 L3.4,0 L0,3.4 L-3.4,0 Z"/>
</g>
<text x="969.3" y="700.8" font-family="Liberation Sans, sans-serif" font-size="22" fill="#d8d8d8" stroke="#1b1a1f" stroke-opacity="0.7" stroke-width="2.5" paint-order="stroke" textLength="19" lengthAdjust="spacingAndGlyphs">@</text>
<text x="969.3" y="700.8" font-family="Liberation Sans, sans-serif" font-size="22" fill="#d8d8d8" stroke="#d8d8d8" stroke-width="0.5" textLength="19" lengthAdjust="spacingAndGlyphs">@</text>
<text x="994" y="702" font-family="Liberation Sans, sans-serif" font-size="25" fill="#ffffff" stroke="#1b1a1f" stroke-opacity="0.75" stroke-width="3" paint-order="stroke" stroke-linejoin="round" textLength="276" lengthAdjust="spacingAndGlyphs">CryptoQuant Quicktak...</text>
</svg>
</body></html>
